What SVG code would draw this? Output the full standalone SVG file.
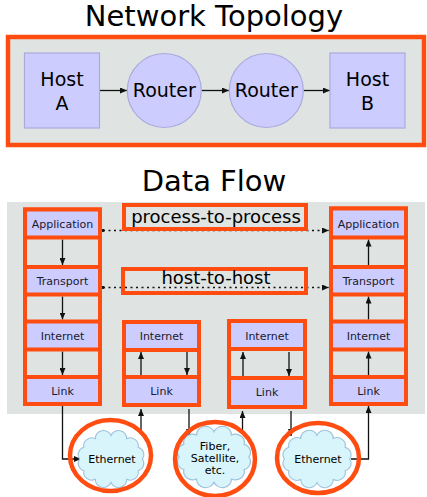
<svg xmlns="http://www.w3.org/2000/svg" xmlns:xlink="http://www.w3.org/1999/xlink" width="427" height="497" viewBox="0 0 427 497">
<style>
  text { font-family: "DejaVu Sans", "Liberation Sans", sans-serif; fill: #000; text-anchor: middle; }
  .title { font-size: 29px; }
  .big { font-size: 19px; }
  .flow { font-size: 18px; }
  .layer-t { font-size: 11px; fill: #1a1a2a; }
  .cloud-t { font-size: 11px; }
  .frame { fill: #dfe3e1; stroke: #ff4d12; stroke-width: 4.5; }
  .panel { fill: #dfe3e1; }
  .host { fill: #ccccff; stroke: #aaaadd; stroke-width: 1.2; }
  .layer { fill: #ccccff; stroke: #ff4d12; stroke-width: 4; }
  .stack { fill: none; stroke: #ff4d12; stroke-width: 4; }
  .ring { fill: none; stroke: #ff4d12; stroke-width: 4.5; }
  .cloud { fill: #d8f5fc; stroke: #9fc3dc; stroke-width: 1; }
  .arrow { fill: none; stroke: #111; stroke-width: 1.3; marker-end: url(#ah); }
  .dots { fill: none; stroke: #111; stroke-width: 1.3; stroke-dasharray: 2 3.5; marker-end: url(#ah); marker-start: url(#dot); }
</style>
<defs>
  <marker id="ah" markerUnits="userSpaceOnUse" markerWidth="8" markerHeight="6" refX="7" refY="3" orient="auto">
    <path d="M0,0 L7,3 L0,6 Z" fill="#111"/>
  </marker>
  <marker id="dot" markerUnits="userSpaceOnUse" markerWidth="4" markerHeight="4" refX="2" refY="2" orient="auto">
    <circle cx="2" cy="2" r="1.6" fill="#111"/>
  </marker>
  <path id="cloudshape" d="M29,0 A7.5,7.5 0 0 1 25.11,11.5 A7.5,7.5 0 0 1 14.5,19.92 A7.5,7.5 0 0 1 0,23 A7.5,7.5 0 0 1 -14.5,19.92 A7.5,7.5 0 0 1 -25.11,11.5 A7.5,7.5 0 0 1 -29,0 A7.5,7.5 0 0 1 -25.11,-11.5 A7.5,7.5 0 0 1 -14.5,-19.92 A7.5,7.5 0 0 1 0,-23 A7.5,7.5 0 0 1 14.5,-19.92 A7.5,7.5 0 0 1 25.11,-11.5 A7.5,7.5 0 0 1 29,0 Z"/>
</defs>

<!-- Network Topology -->
<text class="title" x="214" y="26">Network Topology</text>
<rect class="frame" x="8" y="37" width="416" height="108"/>

<g id="connectors-top">
  <line class="arrow" x1="99.5" y1="90.5" x2="127" y2="90.5"/>
  <line class="arrow" x1="201.5" y1="90.5" x2="229" y2="90.5"/>
  <line class="arrow" x1="303.5" y1="90.5" x2="330" y2="90.5"/>
</g>
<g id="host-a">
  <rect class="host" x="24.5" y="53" width="75" height="75"/>
  <text class="big" x="62" y="86">Host</text>
  <text class="big" x="62" y="110">A</text>
</g>
<g id="router-1">
  <circle class="host" cx="164.3" cy="90.5" r="37"/>
  <text class="big" x="164.3" y="97">Router</text>
</g>
<g id="router-2">
  <circle class="host" cx="266.3" cy="90.5" r="37"/>
  <text class="big" x="266.3" y="97">Router</text>
</g>
<g id="host-b">
  <rect class="host" x="330" y="53" width="75" height="75"/>
  <text class="big" x="367.5" y="86">Host</text>
  <text class="big" x="367.5" y="110">B</text>
</g>

<!-- Data Flow -->
<text class="title" x="214" y="191">Data Flow</text>
<rect class="panel" x="7" y="202" width="418" height="212"/>

<g id="connectors-flow">
  <line class="dots" x1="103" y1="230.5" x2="329" y2="230.5"/>
  <line class="dots" x1="103" y1="287.5" x2="329" y2="287.5"/>
  <!-- left stack down -->
  <line class="arrow" x1="62.5" y1="239.5" x2="62.5" y2="265"/>
  <line class="arrow" x1="62.5" y1="296.5" x2="62.5" y2="319.5"/>
  <line class="arrow" x1="62.5" y1="351.5" x2="62.5" y2="375"/>
  <!-- right stack up -->
  <line class="arrow" x1="368.5" y1="375" x2="368.5" y2="351.5"/>
  <line class="arrow" x1="368.5" y1="319.5" x2="368.5" y2="296.5"/>
  <line class="arrow" x1="368.5" y1="265" x2="368.5" y2="239.5"/>
  <!-- middle stack 1 -->
  <line class="arrow" x1="141" y1="375" x2="141" y2="352"/>
  <line class="arrow" x1="187" y1="352" x2="187" y2="375"/>
  <!-- middle stack 2 -->
  <line class="arrow" x1="243" y1="376" x2="243" y2="352"/>
  <line class="arrow" x1="289" y1="352" x2="289" y2="376"/>
  <!-- to clouds -->
  <path class="arrow" d="M62.5,406 V459 H81"/>
  <line class="arrow" x1="141" y1="434" x2="141" y2="409"/>
  <line class="arrow" x1="189" y1="409" x2="189" y2="436"/>
  <line class="arrow" x1="242.5" y1="434" x2="242.5" y2="411"/>
  <line class="arrow" x1="291" y1="411" x2="291" y2="436"/>
  <path class="arrow" d="M351,459 H368.5 V406"/>
</g>

<g id="process-to-process">
  <rect class="stack" x="124" y="205" width="182" height="24"/>
  <text class="flow" x="216" y="223">process-to-process</text>
</g>
<g id="host-to-host">
  <rect class="stack" x="123" y="269" width="183" height="24"/>
  <text class="flow" x="216" y="284">host-to-host</text>
</g>

<g id="stack-host-a">
  <rect class="stack" x="25" y="209.5" width="75" height="194.5"/>
  <rect class="layer" x="25" y="209.5" width="75" height="28"/>
  <rect class="layer" x="25" y="267" width="75" height="27.5"/>
  <rect class="layer" x="25" y="321.5" width="75" height="28"/>
  <rect class="layer" x="25" y="377" width="75" height="27"/>
  <text class="layer-t" x="62.5" y="227.5">Application</text>
  <text class="layer-t" x="62.5" y="284.5">Transport</text>
  <text class="layer-t" x="62.5" y="339.5">Internet</text>
  <text class="layer-t" x="62.5" y="395">Link</text>
</g>

<g id="stack-router-1">
  <rect class="stack" x="124" y="322" width="75" height="83"/>
  <rect class="layer" x="124" y="322" width="75" height="28"/>
  <rect class="layer" x="124" y="377" width="75" height="28"/>
  <text class="layer-t" x="161.5" y="340">Internet</text>
  <text class="layer-t" x="161.5" y="395">Link</text>
</g>

<g id="stack-router-2">
  <rect class="stack" x="229" y="321" width="76" height="86"/>
  <rect class="layer" x="229" y="321" width="76" height="28"/>
  <rect class="layer" x="229" y="378" width="76" height="29"/>
  <text class="layer-t" x="267" y="339.5">Internet</text>
  <text class="layer-t" x="267" y="396">Link</text>
</g>

<g id="stack-host-b">
  <rect class="stack" x="331" y="208.5" width="75" height="195.5"/>
  <rect class="layer" x="331" y="208.5" width="75" height="29"/>
  <rect class="layer" x="331" y="267" width="75" height="27.5"/>
  <rect class="layer" x="331" y="321.5" width="75" height="28"/>
  <rect class="layer" x="331" y="377" width="75" height="27"/>
  <text class="layer-t" x="368.5" y="227.5">Application</text>
  <text class="layer-t" x="368.5" y="284.5">Transport</text>
  <text class="layer-t" x="368.5" y="339.5">Internet</text>
  <text class="layer-t" x="368.5" y="395">Link</text>
</g>

<g id="cloud-ethernet-1">
  <use xlink:href="#cloudshape" class="cloud" transform="translate(111,459) scale(1.08,1.02)"/>
  <ellipse class="ring" cx="110.5" cy="455.5" rx="40.5" ry="35.5"/>
  <text class="cloud-t" x="112" y="463">Ethernet</text>
</g>
<g id="cloud-fiber">
  <use xlink:href="#cloudshape" class="cloud" transform="translate(214,457) scale(1.2,1.1)"/>
  <ellipse class="ring" cx="215" cy="459" rx="40" ry="37"/>
  <text class="cloud-t" x="215" y="449.5">Fiber,</text>
  <text class="cloud-t" x="215" y="462">Satellite,</text>
  <text class="cloud-t" x="215" y="474">etc.</text>
</g>
<g id="cloud-ethernet-2">
  <use xlink:href="#cloudshape" class="cloud" transform="translate(317,459) scale(1.12,1.03)"/>
  <ellipse class="ring" cx="318" cy="458" rx="41" ry="35"/>
  <text class="cloud-t" x="318" y="463">Ethernet</text>
</g>
</svg>
